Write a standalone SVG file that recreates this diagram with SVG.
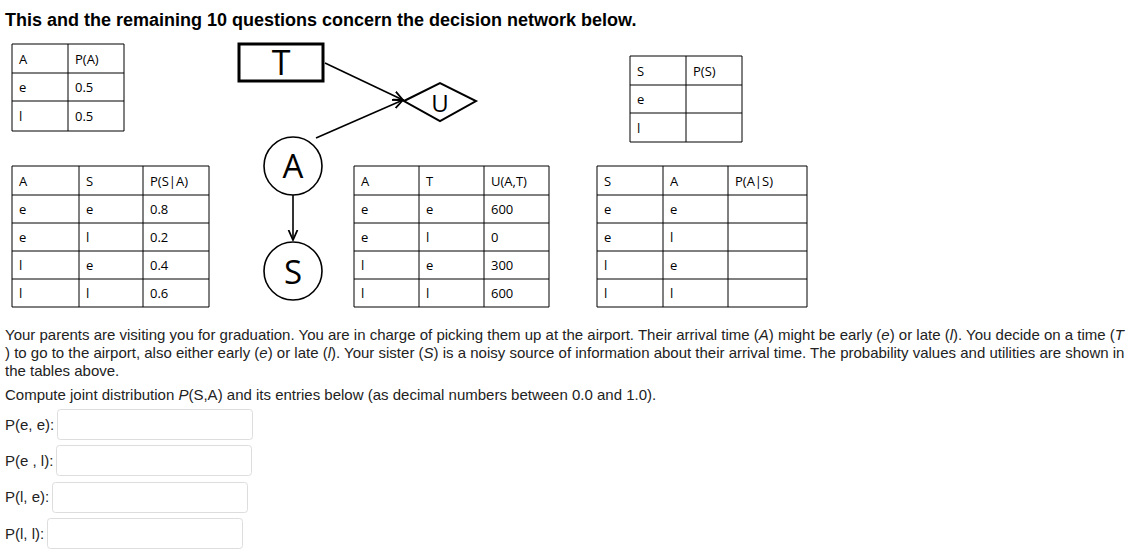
<svg xmlns="http://www.w3.org/2000/svg" width="1143" height="559" viewBox="0 0 1143 559">
<style>
.g{stroke:#000;stroke-width:1;fill:none}
.c{font-family:"Open Sans","Liberation Sans",sans-serif;font-size:13px;fill:#000}
.p{font-family:"Liberation Sans",Arial,sans-serif;font-size:15px;fill:#222}
.i{font-style:italic}
.box{fill:#fff;stroke:#ddd;stroke-width:1}
.n{font-family:"Open Sans","Liberation Sans",sans-serif;fill:#000}
</style>
<defs>
<marker id="ah" viewBox="0 0 10 10" refX="9" refY="5" markerWidth="7" markerHeight="7" orient="auto"><path d="M0,1 L9,5 L0,9" fill="none" stroke="#000" stroke-width="1.6"/></marker>
</defs>
<rect width="1143" height="559" fill="#fff"/>
<text x="5" y="26" font-family="Liberation Sans,Arial,sans-serif" font-size="18" font-weight="bold" fill="#000">This and the remaining 10 questions concern the decision network below.</text>

<g id="table-PA">
<path class="g" d="M12,44H124M12,73H124M12,101H124M12,131H124M12,44V131M68,44V131M124,44V131"/>
<text class="c" x="19" y="64">A</text><text class="c" x="75" y="64">P(A)</text>
<text class="c" x="19" y="92">e</text><text class="c" x="75" y="92">0.5</text>
<text class="c" x="19" y="121">l</text><text class="c" x="75" y="121">0.5</text>
</g>
<g id="table-PSA">
<path class="g" d="M12,166H209M12,195H209M12,223H209M12,251H209M12,279H209M12,307H209M12,166V307M79,166V307M143,166V307M209,166V307"/>
<text class="c" x="19" y="186">A</text><text class="c" x="86" y="186">S</text><text class="c" x="150" y="186">P(S|A)</text>
<text class="c" x="19" y="214">e</text><text class="c" x="86" y="214">e</text><text class="c" x="150" y="214">0.8</text>
<text class="c" x="19" y="242">e</text><text class="c" x="86" y="242">l</text><text class="c" x="150" y="242">0.2</text>
<text class="c" x="19" y="270">l</text><text class="c" x="86" y="270">e</text><text class="c" x="150" y="270">0.4</text>
<text class="c" x="19" y="298">l</text><text class="c" x="86" y="298">l</text><text class="c" x="150" y="298">0.6</text>
</g>
<g id="table-UAT">
<path class="g" d="M354,166H549M354,195H549M354,223H549M354,251H549M354,279H549M354,307H549M354,166V307M419,166V307M484,166V307M549,166V307"/>
<text class="c" x="361" y="186">A</text><text class="c" x="426" y="186">T</text><text class="c" x="491" y="186">U(A,T)</text>
<text class="c" x="361" y="214">e</text><text class="c" x="426" y="214">e</text><text class="c" x="491" y="214">600</text>
<text class="c" x="361" y="242">e</text><text class="c" x="426" y="242">l</text><text class="c" x="491" y="242">0</text>
<text class="c" x="361" y="270">l</text><text class="c" x="426" y="270">e</text><text class="c" x="491" y="270">300</text>
<text class="c" x="361" y="298">l</text><text class="c" x="426" y="298">l</text><text class="c" x="491" y="298">600</text>
</g>
<g id="table-PS">
<path class="g" d="M630,56H742M630,85H742M630,113H742M630,142H742M630,56V142M686,56V142M742,56V142"/>
<text class="c" x="637" y="76">S</text><text class="c" x="693" y="76">P(S)</text>
<text class="c" x="637" y="104">e</text>
<text class="c" x="637" y="133">l</text>
</g>
<g id="table-PAS">
<path class="g" d="M597,166H807M597,195H807M597,223H807M597,251H807M597,279H807M597,307H807M597,166V307M663,166V307M728,166V307M807,166V307"/>
<text class="c" x="604" y="186">S</text><text class="c" x="670" y="186">A</text><text class="c" x="735" y="186">P(A|S)</text>
<text class="c" x="604" y="214">e</text><text class="c" x="670" y="214">e</text>
<text class="c" x="604" y="242">e</text><text class="c" x="670" y="242">l</text>
<text class="c" x="604" y="270">l</text><text class="c" x="670" y="270">e</text>
<text class="c" x="604" y="298">l</text><text class="c" x="670" y="298">l</text>
</g>

<g id="connectors" stroke="#000" stroke-width="1.6" fill="none">
<path d="M325,63L403,100" marker-end="url(#ah)"/>
<path d="M316,138L403,100" marker-end="url(#ah)"/>
<path d="M293,195V240" marker-end="url(#ah)"/>
</g>
<g id="node-T">
<rect x="239" y="44" width="84" height="37" fill="#fff" stroke="#000" stroke-width="3"/>
<text class="n" x="281" y="75" font-size="34" text-anchor="middle">T</text>
</g>
<g id="node-U">
<path d="M404,101L440,83L476,101L440,121Z" fill="#fff" stroke="#000" stroke-width="2"/>
<text class="n" x="440" y="112" font-size="24" text-anchor="middle">U</text>
</g>
<g id="node-A">
<circle cx="293" cy="166" r="29" fill="#fff" stroke="#000" stroke-width="1.6"/>
<text class="n" x="293" y="178" font-size="33" text-anchor="middle">A</text>
</g>
<g id="node-S">
<circle cx="293" cy="271" r="29" fill="#fff" stroke="#000" stroke-width="1.6"/>
<text class="n" x="293" y="284" font-size="33" text-anchor="middle">S</text>
</g>

<text class="p" x="5" y="340">Your parents are visiting you for graduation. You are in charge of picking them up at the airport. Their arrival time (<tspan class="i">A</tspan>) might be early (<tspan class="i">e</tspan>) or late (<tspan class="i">l</tspan>). You decide on a time (<tspan class="i">T</tspan></text>
<text class="p" x="5" y="358">) to go to the airport, also either early (<tspan class="i">e</tspan>) or late (<tspan class="i">l</tspan>). Your sister (<tspan class="i">S</tspan>) is a noisy source of information about their arrival time. The probability values and utilities are shown in</text>
<text class="p" x="5" y="376">the tables above.</text>
<text class="p" x="5" y="400">Compute joint distribution <tspan class="i">P</tspan>(S,A) and its entries below (as decimal numbers between 0.0 and 1.0).</text>

<text class="p" x="5" y="430">P(e, e):</text><rect class="box" x="57.5" y="409.5" width="195" height="30" rx="3"/>
<text class="p" x="5" y="466">P(e , l):</text><rect class="box" x="56.5" y="445.5" width="195" height="30" rx="3"/>
<text class="p" x="5" y="502">P(l, e):</text><rect class="box" x="52.5" y="482.5" width="195" height="30" rx="3"/>
<text class="p" x="5" y="539">P(l, l):</text><rect class="box" x="47.5" y="518.5" width="195" height="30" rx="3"/>
</svg>
